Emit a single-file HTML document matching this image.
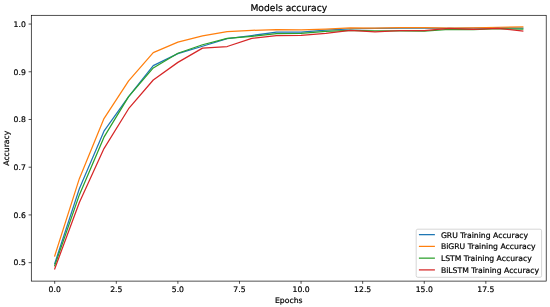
<!DOCTYPE html>
<html lang="en"><head><meta charset="utf-8"><title>Models accuracy</title>
<style>html,body{margin:0;padding:0;background:#fff;overflow:hidden}svg{display:block}text{text-rendering:geometricPrecision;stroke:#000;stroke-width:0.2px;font-family:"DejaVu Sans","Liberation Sans",sans-serif;fill:#000}</style></head><body>
<svg width="550" height="307" viewBox="0 0 550 307">
<rect x="0" y="0" width="550" height="307" fill="#ffffff"/>
<clipPath id="ax"><rect x="31.3" y="15.3" width="514.90" height="265.80"/></clipPath>
<g clip-path="url(#ax)" fill="none" stroke-linejoin="round" stroke-linecap="square">
<polyline points="54.70,263.60 79.34,188.68 103.98,131.23 128.61,96.58 153.25,65.57 177.89,53.64 202.52,46.24 227.16,38.60 251.80,35.55 276.43,32.21 301.07,32.07 325.70,30.06 350.34,28.97 374.98,28.44 399.61,28.11 424.25,28.11 448.89,28.44 473.52,28.01 498.16,27.87 522.80,28.01" stroke="#1f77b4" stroke-width="1.25"/>
<polyline points="54.70,255.97 79.34,178.66 103.98,118.54 128.61,80.84 153.25,52.68 177.89,42.14 202.52,35.98 227.16,31.59 251.80,30.35 276.43,29.68 301.07,29.87 325.70,29.01 350.34,27.82 374.98,28.11 399.61,27.63 424.25,27.63 448.89,28.15 473.52,27.77 498.16,27.25 522.80,26.77" stroke="#ff7f0e" stroke-width="1.25"/>
<polyline points="54.70,265.75 79.34,194.89 103.98,137.15 128.61,96.58 153.25,67.95 177.89,53.25 202.52,44.76 227.16,38.46 251.80,36.31 276.43,33.69 301.07,33.40 325.70,31.49 350.34,30.35 374.98,30.83 399.61,30.97 424.25,31.11 448.89,29.30 473.52,29.54 498.16,28.58 522.80,29.06" stroke="#2ca02c" stroke-width="1.25"/>
<polyline points="54.70,268.85 79.34,202.52 103.98,148.60 128.61,108.71 153.25,79.98 177.89,62.37 202.52,48.15 227.16,46.53 251.80,38.46 276.43,35.55 301.07,35.41 325.70,33.26 350.34,30.44 374.98,31.92 399.61,30.59 424.25,30.59 448.89,28.39 473.52,29.30 498.16,28.39 522.80,30.97" stroke="#d62728" stroke-width="1.25"/>
</g>
<g stroke="#000" stroke-width="0.68" fill="none">
<line x1="54.70" y1="281.1" x2="54.70" y2="283.80"/>
<line x1="116.30" y1="281.1" x2="116.30" y2="283.80"/>
<line x1="177.89" y1="281.1" x2="177.89" y2="283.80"/>
<line x1="239.48" y1="281.1" x2="239.48" y2="283.80"/>
<line x1="301.07" y1="281.1" x2="301.07" y2="283.80"/>
<line x1="362.66" y1="281.1" x2="362.66" y2="283.80"/>
<line x1="424.25" y1="281.1" x2="424.25" y2="283.80"/>
<line x1="485.84" y1="281.1" x2="485.84" y2="283.80"/>
<line x1="31.3" y1="262.65" x2="28.60" y2="262.65"/>
<line x1="31.3" y1="214.93" x2="28.60" y2="214.93"/>
<line x1="31.3" y1="167.21" x2="28.60" y2="167.21"/>
<line x1="31.3" y1="119.49" x2="28.60" y2="119.49"/>
<line x1="31.3" y1="71.77" x2="28.60" y2="71.77"/>
<line x1="31.3" y1="24.05" x2="28.60" y2="24.05"/>
<rect x="31.3" y="15.3" width="514.90" height="265.80" stroke-linejoin="miter"/>
</g>
<g font-size="7.7">
<text x="54.70" y="292.30" text-anchor="middle">0.0</text>
<text x="116.30" y="292.30" text-anchor="middle">2.5</text>
<text x="177.89" y="292.30" text-anchor="middle">5.0</text>
<text x="239.48" y="292.30" text-anchor="middle">7.5</text>
<text x="301.07" y="292.30" text-anchor="middle">10.0</text>
<text x="362.66" y="292.30" text-anchor="middle">12.5</text>
<text x="424.25" y="292.30" text-anchor="middle">15.0</text>
<text x="485.84" y="292.30" text-anchor="middle">17.5</text>
<text x="25.80" y="265.40" text-anchor="end">0.5</text>
<text x="25.80" y="217.68" text-anchor="end">0.6</text>
<text x="25.80" y="169.96" text-anchor="end">0.7</text>
<text x="25.80" y="122.24" text-anchor="end">0.8</text>
<text x="25.80" y="74.52" text-anchor="end">0.9</text>
<text x="25.80" y="26.80" text-anchor="end">1.0</text>
<text x="288.75" y="302.6" text-anchor="middle">Epochs</text>
<text transform="translate(8.7,148.20) rotate(-90)" text-anchor="middle">Accuracy</text>
</g>
<text x="288.75" y="11.00" text-anchor="middle" font-size="9.2">Models accuracy</text>
<rect x="416.2" y="229.2" width="125.40" height="48.10" rx="1.6" ry="1.6" fill="#ffffff" fill-opacity="0.8" stroke="#cccccc" stroke-width="0.8"/>
<line x1="418.9" y1="234.65" x2="434.9" y2="234.65" stroke="#1f77b4" stroke-width="1.25"/>
<text x="440.9" y="237.55" font-size="7.7">GRU Training Accuracy</text>
<line x1="418.9" y1="246.4" x2="434.9" y2="246.4" stroke="#ff7f0e" stroke-width="1.25"/>
<text x="440.9" y="249.30" font-size="7.7">BiGRU Training Accuracy</text>
<line x1="418.9" y1="258.15" x2="434.9" y2="258.15" stroke="#2ca02c" stroke-width="1.25"/>
<text x="440.9" y="261.05" font-size="7.7">LSTM Training Accuracy</text>
<line x1="418.9" y1="269.9" x2="434.9" y2="269.9" stroke="#d62728" stroke-width="1.25"/>
<text x="440.9" y="272.80" font-size="7.7">BiLSTM Training Accuracy</text>
</svg></body></html>
